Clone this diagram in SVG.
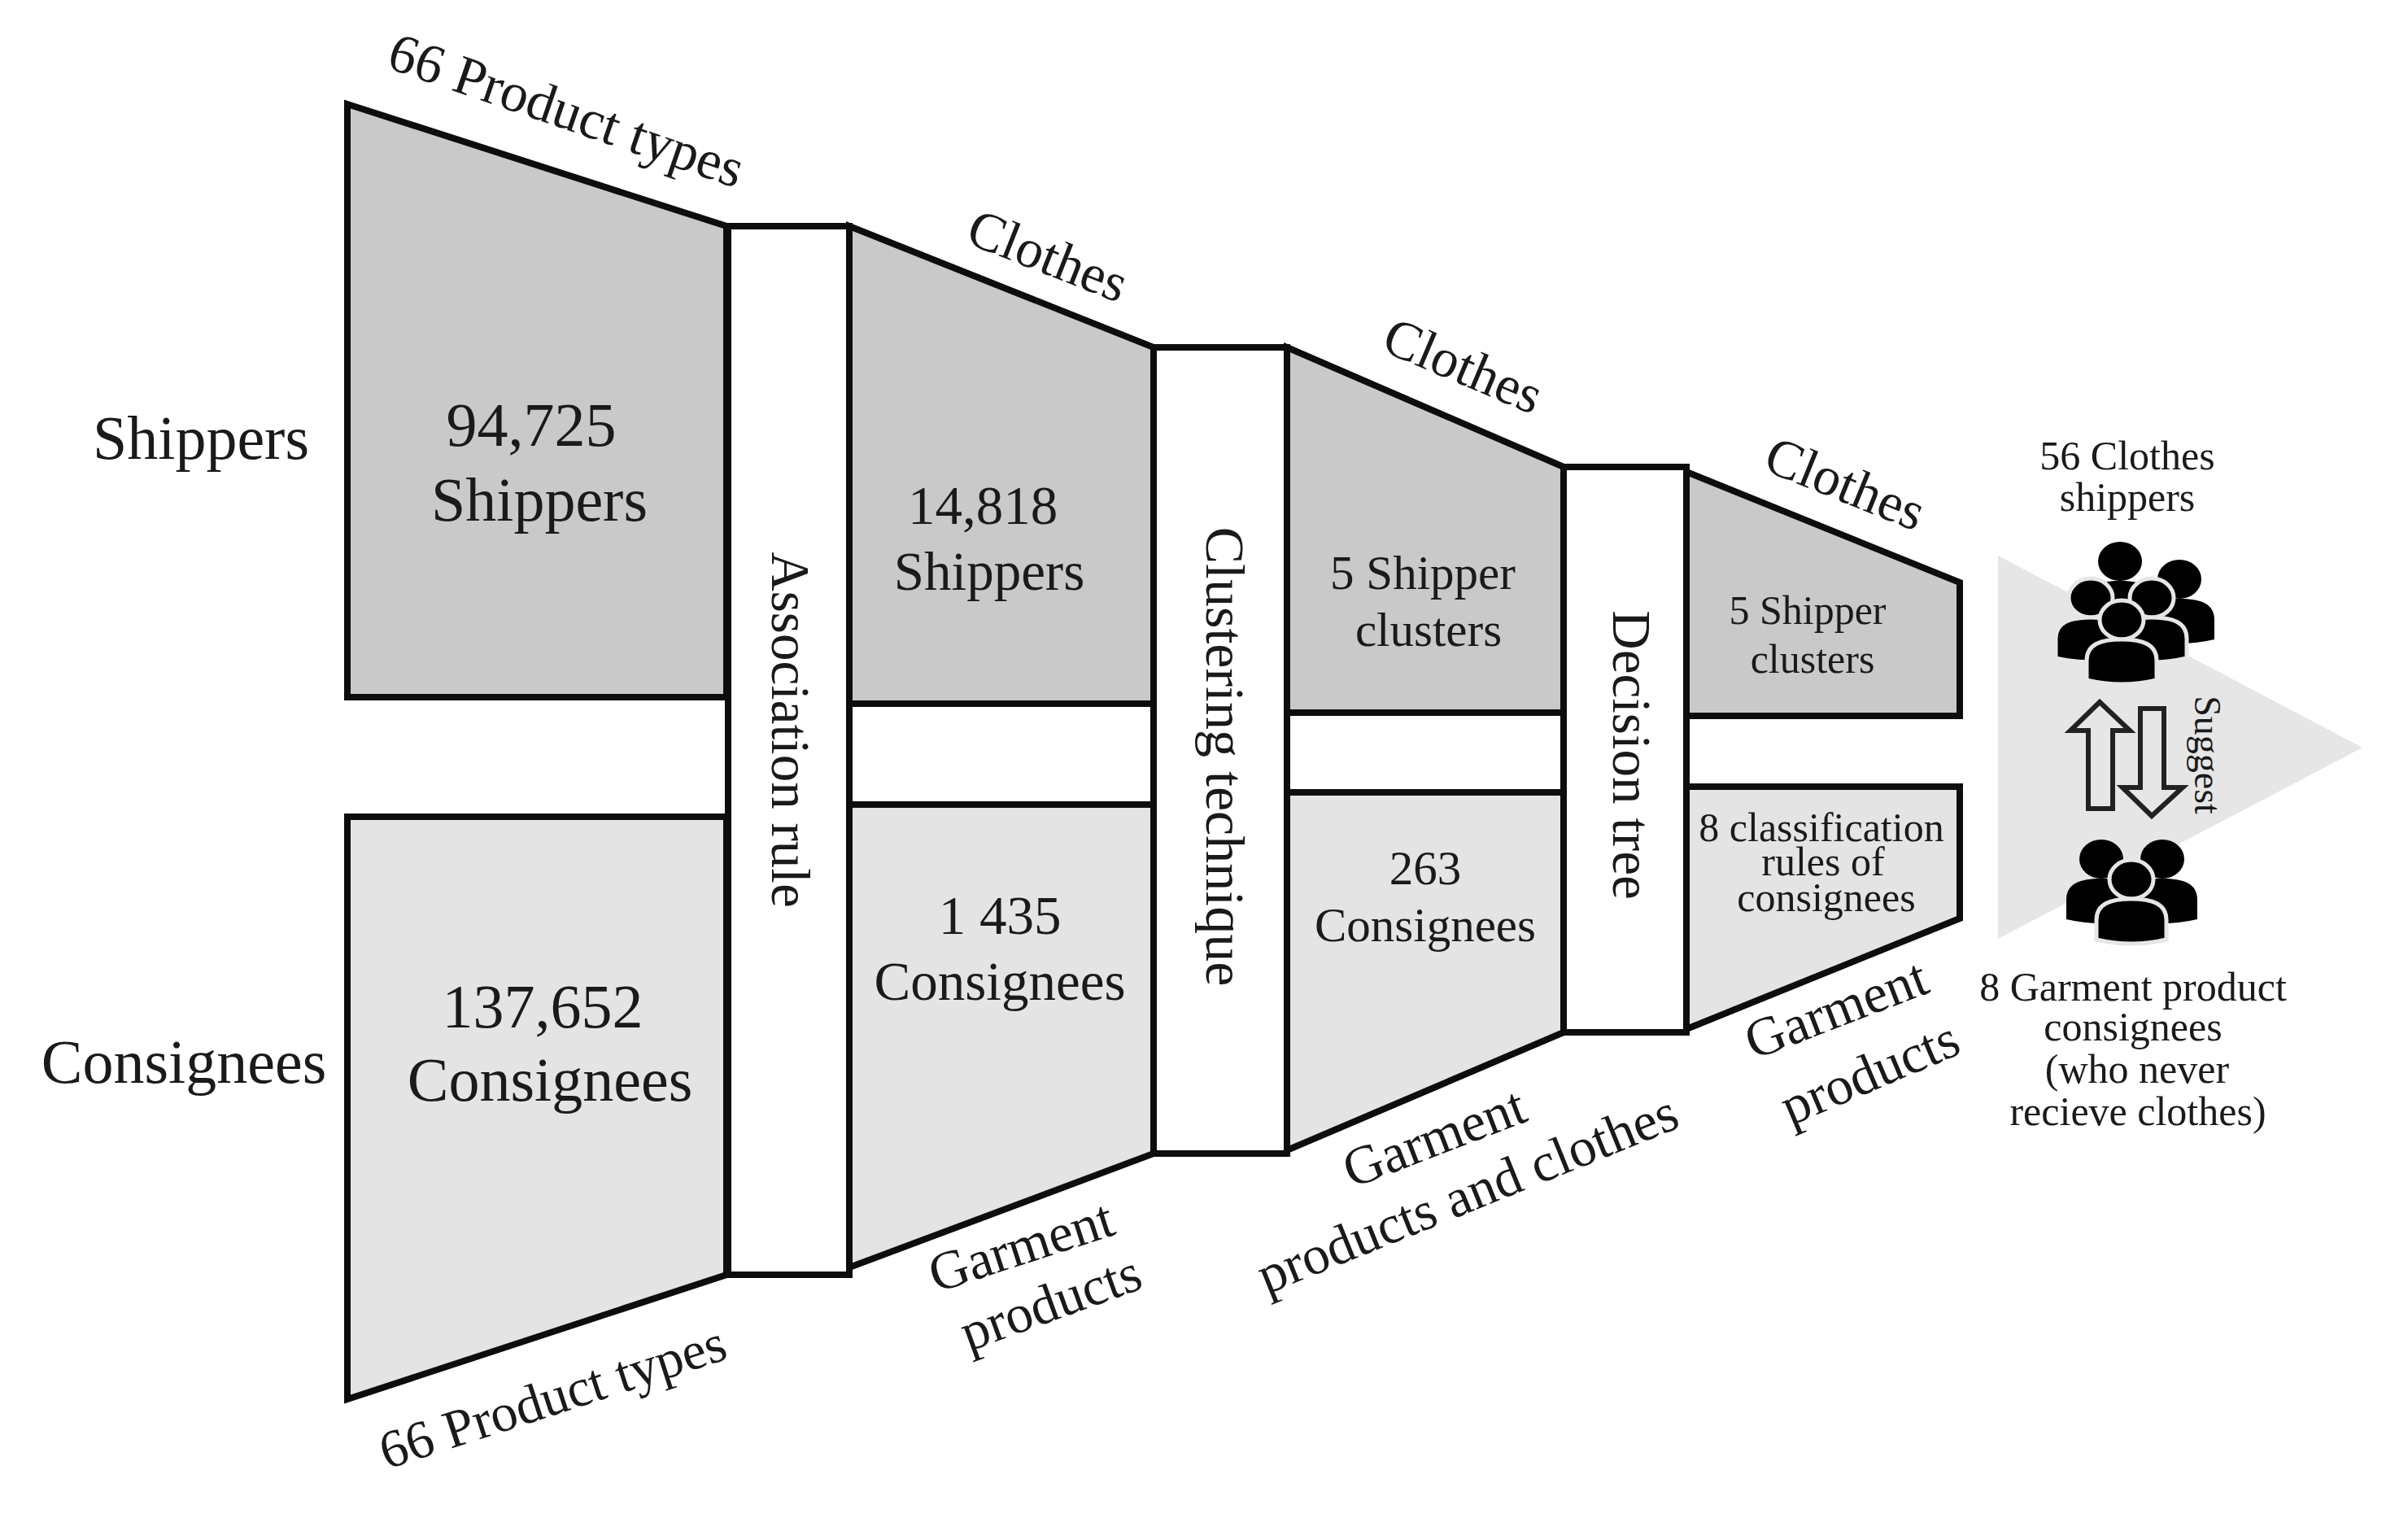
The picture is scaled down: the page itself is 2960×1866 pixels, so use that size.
<svg xmlns="http://www.w3.org/2000/svg" width="2960" height="1866" viewBox="0 0 2960 1866">
<style>
.d{fill:#c9c9c9;stroke:#0d0d0d;stroke-width:8;stroke-linejoin:miter}
.l{fill:#e4e4e4;stroke:#0d0d0d;stroke-width:8}
.b{fill:#fff;stroke:#0d0d0d;stroke-width:8}
text{font-family:"Liberation Serif","Times New Roman",serif;fill:#1a1a1a;text-anchor:middle}
.f75{font-size:76px}.f66{font-size:67px}.f68{font-size:68px}.f58{font-size:59px}.f50{font-size:50px}
.p{fill:#000;stroke:#e6e6e6;stroke-width:5}
.o{fill:#000;stroke:none}
.a{fill:#e6e6e6;stroke:#222;stroke-width:6}
</style>
<defs>
<g id="person"><ellipse cx="0" cy="0" rx="27" ry="24"/><path d="M-43 74V50C-43 30-26 24 0 24S43 30 43 50V74Q0 84-43 74Z"/></g>
</defs>
<rect width="2960" height="1866" fill="#fff"/>
<g id="side-labels">
<text class="f75" x="247" y="564">Shippers</text>
<text class="f75" x="226" y="1331">Consignees</text>
</g>
<g id="funnel-1-shippers"><polygon class="d" points="427,128 893,278 893,857 427,857"/><text class="f75" x="653" y="548">94,725</text><text class="f75" x="663" y="640">Shippers</text></g>
<g id="funnel-1-consignees"><polygon class="l" points="427,1004 893,1004 893,1567 427,1720"/><text class="f75" x="667" y="1263">137,652</text><text class="f75" x="676" y="1353">Consignees</text></g>
<g id="association-rule"><rect class="b" x="895" y="278" width="149" height="1289"/><text class="f66" transform="translate(949 897) rotate(90)">Association rule</text></g>
<g id="funnel-2-shippers"><polygon class="d" points="1044,278 1418,427 1418,865 1044,865"/><text class="f66" x="1208" y="644">14,818</text><text class="f66" x="1216" y="725">Shippers</text></g>
<g id="funnel-2-consignees"><polygon class="l" points="1044,989 1418,989 1418,1418 1044,1558"/><text class="f66" x="1229" y="1148">1 435</text><text class="f66" x="1229" y="1229">Consignees</text></g>
<g id="clustering-technique"><rect class="b" x="1418" y="427" width="164" height="991"/><text class="f68" transform="translate(1483 930) rotate(90)">Clustering technique</text></g>
<g id="funnel-3-shippers"><polygon class="d" points="1582,427 1922,574 1922,876 1582,876"/><text class="f58" x="1749" y="724">5 Shipper</text><text class="f58" x="1756" y="794">clusters</text></g>
<g id="funnel-3-consignees"><polygon class="l" points="1582,974 1922,974 1922,1269 1582,1414"/><text class="f58" x="1752" y="1087">263</text><text class="f58" x="1752" y="1157">Consignees</text></g>
<g id="decision-tree"><rect class="b" x="1922" y="574" width="151" height="695"/><text class="f66" transform="translate(1983 928) rotate(90)">Decision tree</text></g>
<g id="funnel-4-shippers"><polygon class="d" points="2073,580 2409,716 2409,880 2073,880"/><text class="f50" x="2222" y="767">5 Shipper</text><text class="f50" x="2228" y="827">clusters</text></g>
<g id="funnel-4-consignees"><polygon class="l" points="2073,967 2409,967 2409,1129 2073,1265"/><text class="f50" x="2239" y="1034">8 classification</text><text class="f50" x="2241" y="1076">rules of</text><text class="f50" x="2245" y="1120">consignees</text></g>
<g id="edge-labels">
<text class="f68" transform="translate(689 157) rotate(19)">66 Product types</text>
<text class="f66" transform="translate(1280 335) rotate(21.5)">Clothes</text>
<text class="f66" transform="translate(1790 470) rotate(23)">Clothes</text>
<text class="f66" transform="translate(2260 615) rotate(22)">Clothes</text>
<text style="font-size:66px" transform="translate(686 1738) rotate(-18)">66 Product types</text>
<text class="f66" transform="translate(1262 1553) rotate(-18)">Garment</text>
<text class="f66" transform="translate(1299 1622) rotate(-20)">products</text>
<text class="f66" transform="translate(1771 1419) rotate(-21)">Garment</text>
<text class="f66" transform="translate(1812 1488) rotate(-22)">products and clothes</text>
<text class="f66" transform="translate(2265 1261) rotate(-21)">Garment</text>
<text class="f66" transform="translate(2307 1339) rotate(-23)">products</text>
</g>
<g id="result">
<polygon points="2456,683 2904,919 2456,1154" fill="#e6e6e6"/>
<text class="f50" x="2615" y="577">56 Clothes</text><text class="f50" x="2615" y="628">shippers</text>
<text class="f50" x="2622" y="1230">8 Garment product</text><text class="f50" x="2622" y="1279">consignees</text><text class="f50" x="2627" y="1331">(who never</text><text class="f50" x="2628" y="1383">recieve clothes)</text>
</g>
<g id="shippers-icon">
<use href="#person" class="o" x="2606" y="690"/>
<use href="#person" class="o" x="2679" y="712"/>
<use href="#person" class="p" x="2570" y="735"/>
<use href="#person" class="p" x="2645" y="735"/>
<use href="#person" class="p" x="2608" y="762"/>
</g>
<g id="consignees-icon">
<use href="#person" class="o" x="2583" y="1056"/>
<use href="#person" class="o" x="2658" y="1056"/>
<use href="#person" class="p" x="2620" y="1081"/>
</g>
<g id="connectors">
<polygon class="a" points="2581,863 2618,898 2597,898 2597,994 2567,994 2567,898 2545,898"/>
<polygon class="a" points="2645,1003 2683,968 2660,968 2660,871 2631,871 2631,968 2609,968"/>
</g>
<text style="font-size:46px" transform="translate(2698 928) rotate(90)">Suggest</text>
</svg>
